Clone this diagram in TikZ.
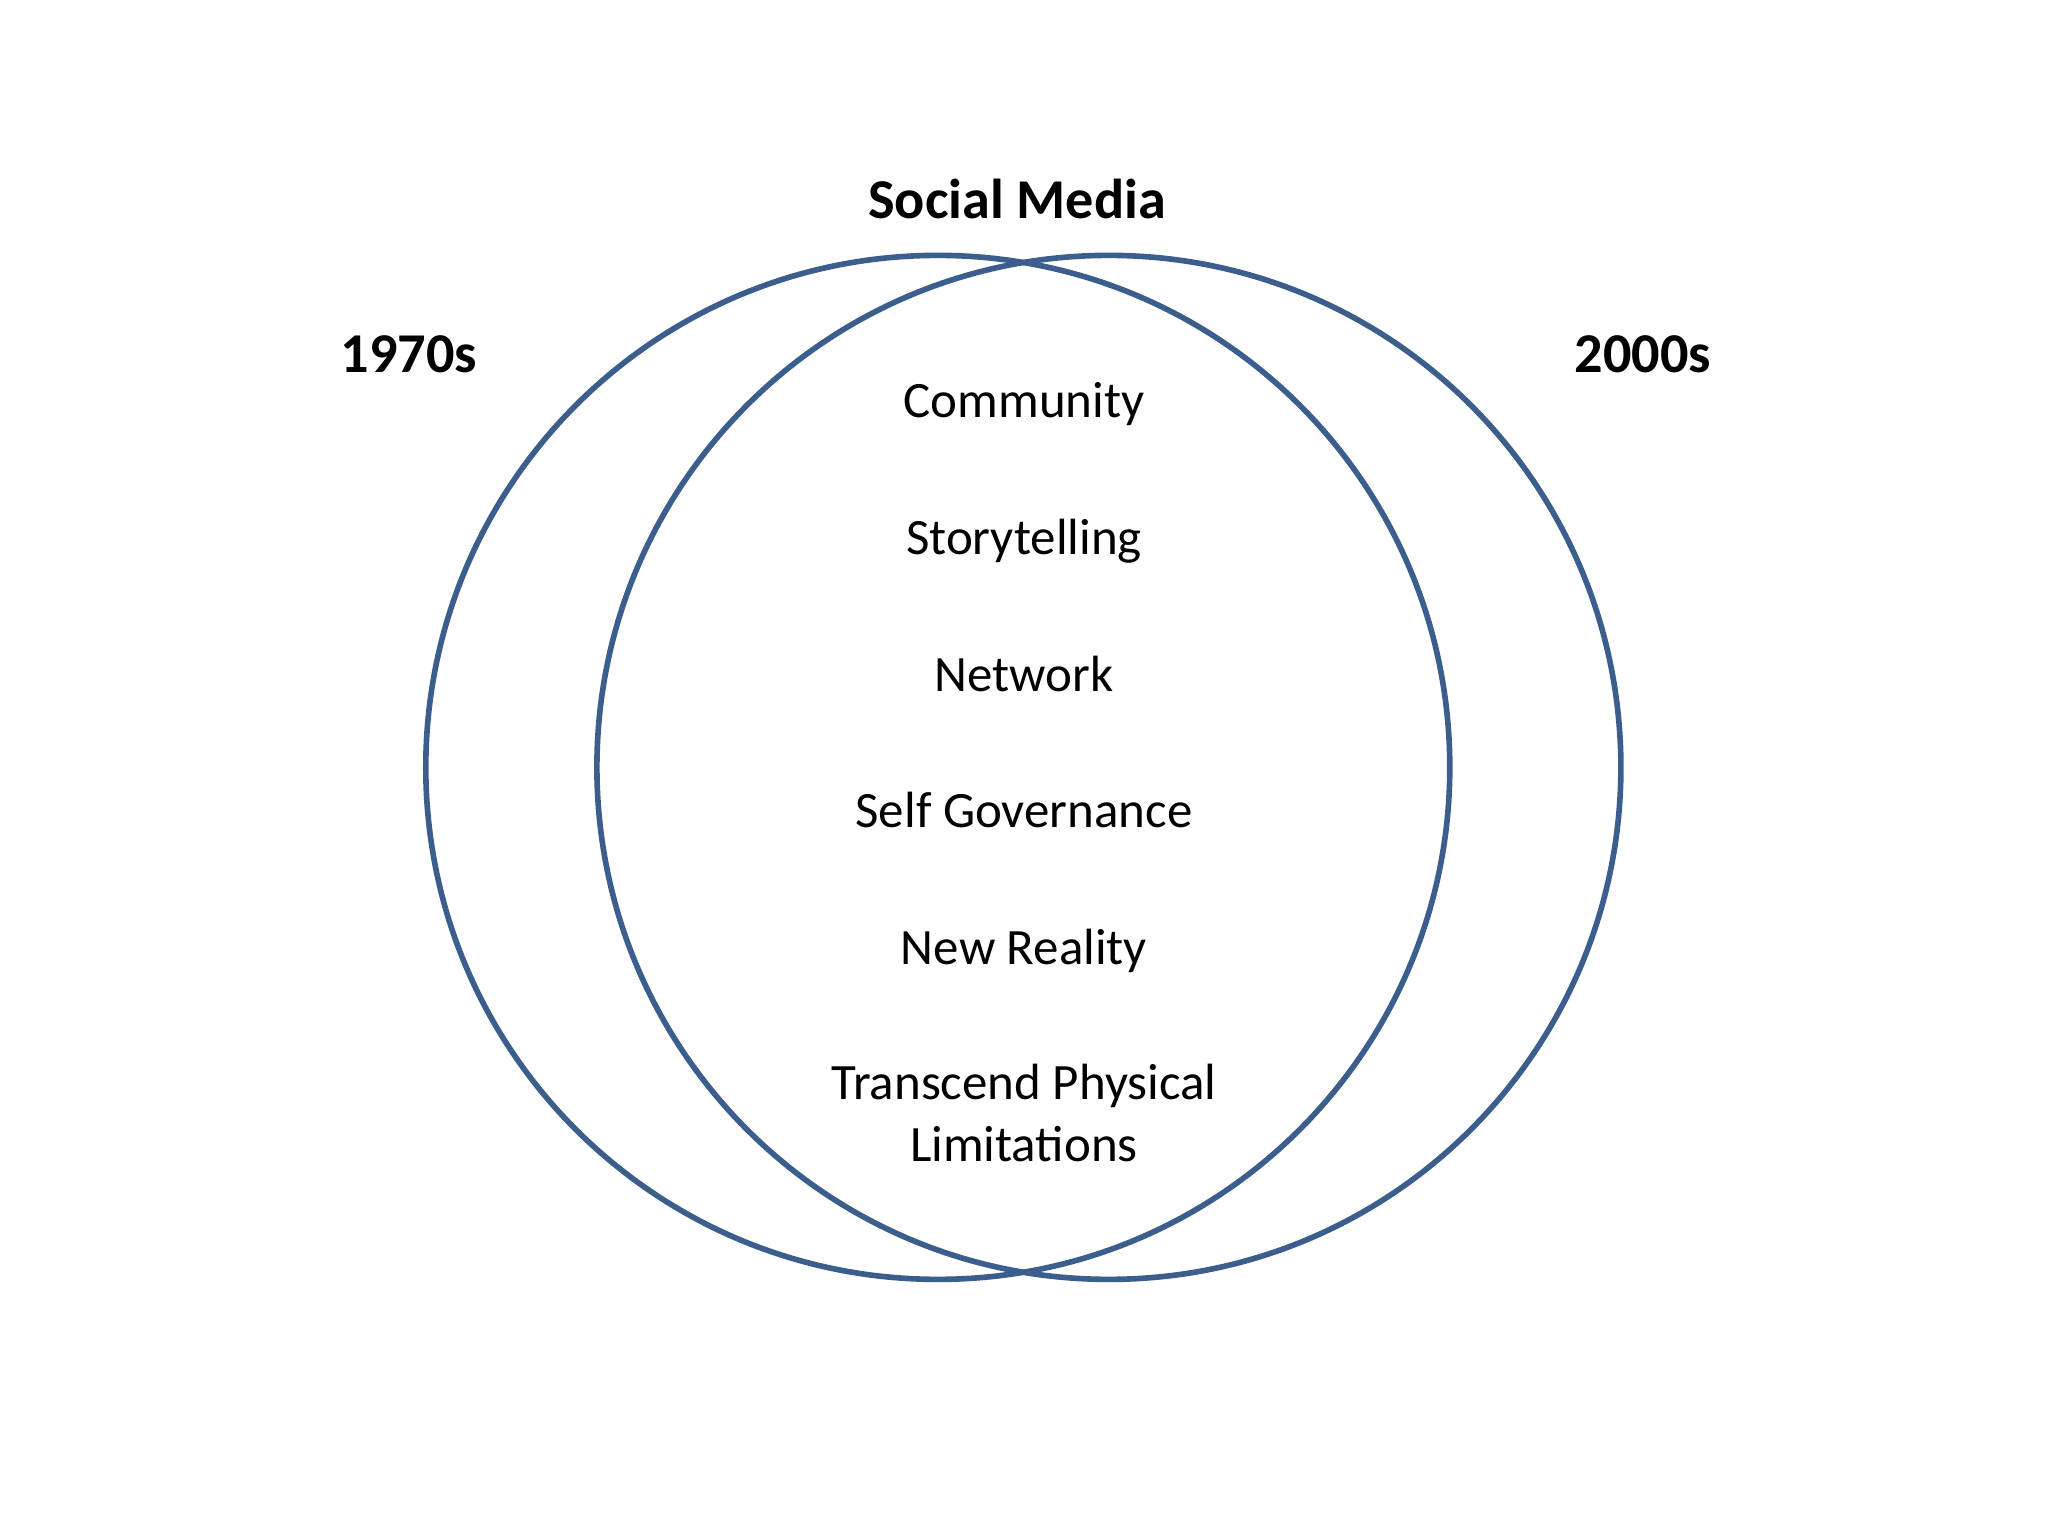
\documentclass[tikz,border=0pt]{standalone}
\usepackage{fontspec}
\setmainfont{Carlito}
\definecolor{ringblue}{RGB}{60,94,140}
\tikzset{
  ring/.style={draw=ringblue,line width=1.6pt},
  itemtext/.style={font=\fontsize{14.5}{17.5}\selectfont,align=center},
  headtext/.style={font=\fontsize{16}{19}\selectfont\bfseries}
}
\begin{document}
\begin{tikzpicture}
  \useasboundingbox (0,0) rectangle (20.48,15.36);
  \draw[ring] (9.378,7.686) circle (5.12);
  \draw[ring] (11.089,7.686) circle (5.12);

  \node[headtext] (social) at (10.17,13.37) {Social Media};
  \node[headtext] (old) at (4.09,11.82) {1970s};
  \node[headtext] (new) at (16.43,11.82) {2000s};

  \foreach \name/\y/\txt in {community/11.32/Community,
      story/9.95/Storytelling,
      network/8.62/Network,
      selfgov/7.26/Self Governance,
      reality/5.85/New Reality}
    \node[itemtext] (\name) at (10.24,\y) {\txt};
  \node[itemtext] (transcend) at (10.24,4.23) {Transcend Physical\\Limitations};
\end{tikzpicture}
\end{document}
